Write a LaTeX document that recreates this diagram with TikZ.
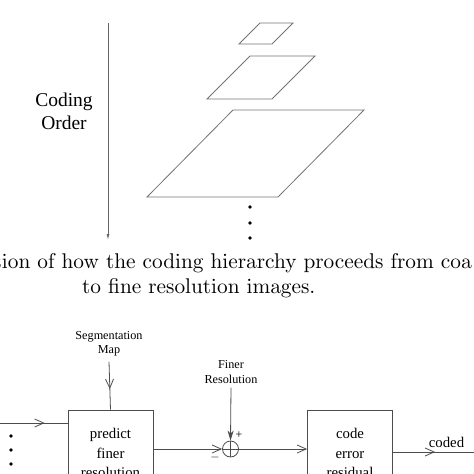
\documentclass[tikz,border=0pt]{standalone}
\usepackage{fontspec}
\setmainfont{Liberation Serif}
\usepackage{tikz}
\usetikzlibrary{arrows.meta,positioning,calc,decorations.markings}
\font\hccapfont=cmr10 at 21.3pt
\tikzset{
  hcbarb/.tip={Straight Barb[length=9pt,width=8pt,line width=0.8pt]},
  hclayer/.style={draw=black!55,line width=0.8pt,line join=miter},
  hcaxis/.style={draw=black!60,line width=0.9pt,-{Latex[length=6pt,width=3pt]}},
  hcdot/.style={circle,fill=black,inner sep=0pt,minimum size=3.6pt},
  hcbox/.style={
    rectangle, draw=black!70, line width=0.8pt, align=center,
    minimum width=85pt, minimum height=86pt, inner sep=0pt,
    font=\fontsize{14.8}{19.5}\selectfont
  },
  hcsum/.style={circle,draw=black!70,line width=0.8pt,minimum size=16pt,inner sep=0pt},
  hcedge/.style={draw=black!70,line width=0.8pt},
  hcto/.style={hcedge,-hcbarb},
  hcmid/.style={hcedge,postaction={decorate,decoration={markings,
      mark=at position #1 with {\arrow{hcbarb}}}}},
  hclabel/.style={font=\fontsize{12.2}{14.5}\selectfont,align=center,inner sep=0pt},
  hcout/.style={font=\fontsize{14.8}{16}\selectfont,inner sep=0pt},
  hcsign/.style={font=\fontsize{12}{12}\selectfont,inner sep=0pt},
  hcorder/.style={font=\fontsize{19.5}{23}\selectfont,align=center,inner sep=0pt},
  hccaption/.style={font=\hccapfont,inner sep=0pt}
}
\begin{document}
\begin{tikzpicture}[x=1pt,y=-1pt]
  \useasboundingbox (0,0) rectangle (474,474);
  \clip (0,0) rectangle (474,474);
  % coding order, coarse to fine
  \coordinate (axtop) at (108,23);
  \coordinate (axbot) at (108,240);
  \draw[hcaxis] (axtop) -- (axbot);
  \node[hcorder] (order) at (64,111) {Coding\\Order};
  \draw[hclayer] (260,23) -- (293,23) -- (272,44) -- (239,44) -- cycle;
  \draw[hclayer] (250,56) -- (315,56) -- (272,99) -- (207,99) -- cycle;
  \draw[hclayer] (233,110) -- (364,110) -- (278,197) -- (147,197) -- cycle;
  \node[hcdot] (d1) at (250,207) {};
  \node[hcdot] (d2) at (250,223) {};
  \node[hcdot] (d3) at (250,238) {};
  % caption
  \node[hccaption,anchor=base west] (cap1) at (-6.5,268) {tion of how the coding hierarchy proceeds from coa};
  \node[hccaption,anchor=base west] (cap2) at (82,293) {to fine resolution images.};
  % coder block diagram
  \node[hcbox] (predict) at (110.5,453) {predict\\finer\\resolution};
  \node[hcbox] (code) at (350,453) {code\\error\\residual};
  \node[hcsum] (sum) at (230.5,449) {};
  \draw[hcedge] (sum.north) -- (sum.south) (sum.west) -- (sum.east);
  \node[hclabel] (seg) at (109,344) {Segmentation\\Map};
  \node[hclabel] (finer) at (231,372) {Finer\\Resolution};
  \node[hcsign] (plus) at (239,435) {+};
  \node[hcsign] (minus) at (215,457) {$-$};
  \node[hcout,anchor=base] (coded) at (446.5,447) {coded};
  \coordinate (inL) at (0,423);
  \coordinate (outR) at (474,452);
  \node[hcdot] (e1) at (11,436) {};
  \node[hcdot] (e2) at (11,450) {};
  \node[hcdot] (e3) at (11,464) {};
  \draw[hcmid=0.66] (inL) -- (predict.west |- inL);
  \draw[hcmid=0.57] (seg.south) ++(0,5) coordinate (segtop) -- (predict.north);
  \draw[hcto] (predict.east |- sum) -- (sum.west);
  \draw[hcedge,-{Stealth[length=10pt,width=6pt,inset=3pt]}] (finer.south) ++(0,4) -- (sum.north);
  \draw[hcto] (sum.east) -- (code.west |- sum);
  \draw[hcmid=0.52] (code.east |- outR) -- (outR);
\end{tikzpicture}
\end{document}
